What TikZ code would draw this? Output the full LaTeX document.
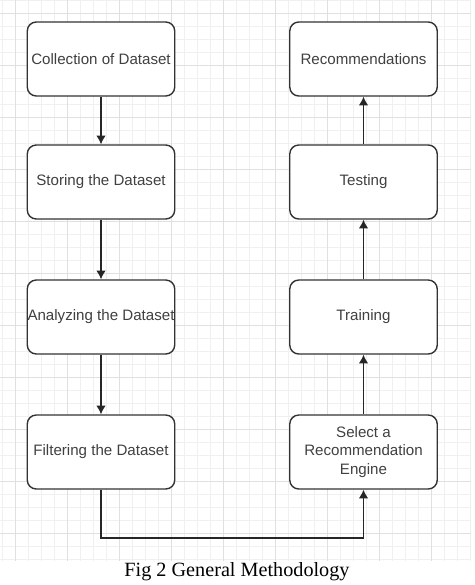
\documentclass[tikz,border=0pt]{standalone}
\usepackage{fontspec}
\setmainfont{Liberation Serif}
\newfontfamily\boitefont{Liberation Sans}
\usetikzlibrary{arrows.meta}

\begin{document}
\begin{tikzpicture}[x=0.02cm, y=-0.02cm]
	\tikzset{etape/.style={rectangle, rounded corners=0.18cm, draw=black!80, fill=white, line width=0.8pt, minimum width=2.95cm, minimum height=1.48cm, align=center, inner sep=0pt, text=black!75, font=\boitefont\fontsize{8.6}{10.5}\selectfont},
	fleche/.style={line width=0.8pt, draw=black!85, ->, >={Latex[length=5pt, width=5.5pt]}}};

	\useasboundingbox (0,0) rectangle (474,585);

	% grille
	\foreach \x in {2,15,...,470} \draw[black!6, line width=0.4pt] (\x,0) -- (\x,561);
	\foreach \y in {0,13,...,561} \draw[black!6, line width=0.4pt] (0,\y) -- (471,\y);
	\foreach \x in {15,67,...,470} \draw[black!12, line width=0.5pt] (\x,0) -- (\x,561);
	\foreach \y in {13,65,...,561} \draw[black!12, line width=0.5pt] (0,\y) -- (471,\y);

	\foreach \name/\x/\y/\texte in {coll/101/59/{Collection of Dataset}, stor/101/182/{Storing the Dataset}, anal/101/317/{Analyzing the Dataset}, filt/101/452/{Filtering the Dataset}, reco/363.5/59/Recommendations, test/363.5/182/Testing, train/363.5/317/Training, moteur/363.5/452/{Select a\\Recommendation\\Engine}}{
		\node[etape] (\name) at (\x,\y) {\texte};
	}

	\coordinate (bas) at (101,538);

	\draw[fleche] (coll) -- (stor);
	\draw[fleche] (stor) -- (anal);
	\draw[fleche] (anal) -- (filt);
	\draw[fleche] (filt.south) -- (filt.south |- bas) -| (moteur.south);
	\draw[fleche] (moteur) -- (train);
	\draw[fleche] (train) -- (test);
	\draw[fleche] (test) -- (reco);

	\node[font=\fontsize{11.5}{13}\selectfont] (legende) at (237,572) {Fig 2 General Methodology};

\end{tikzpicture}
\end{document}
